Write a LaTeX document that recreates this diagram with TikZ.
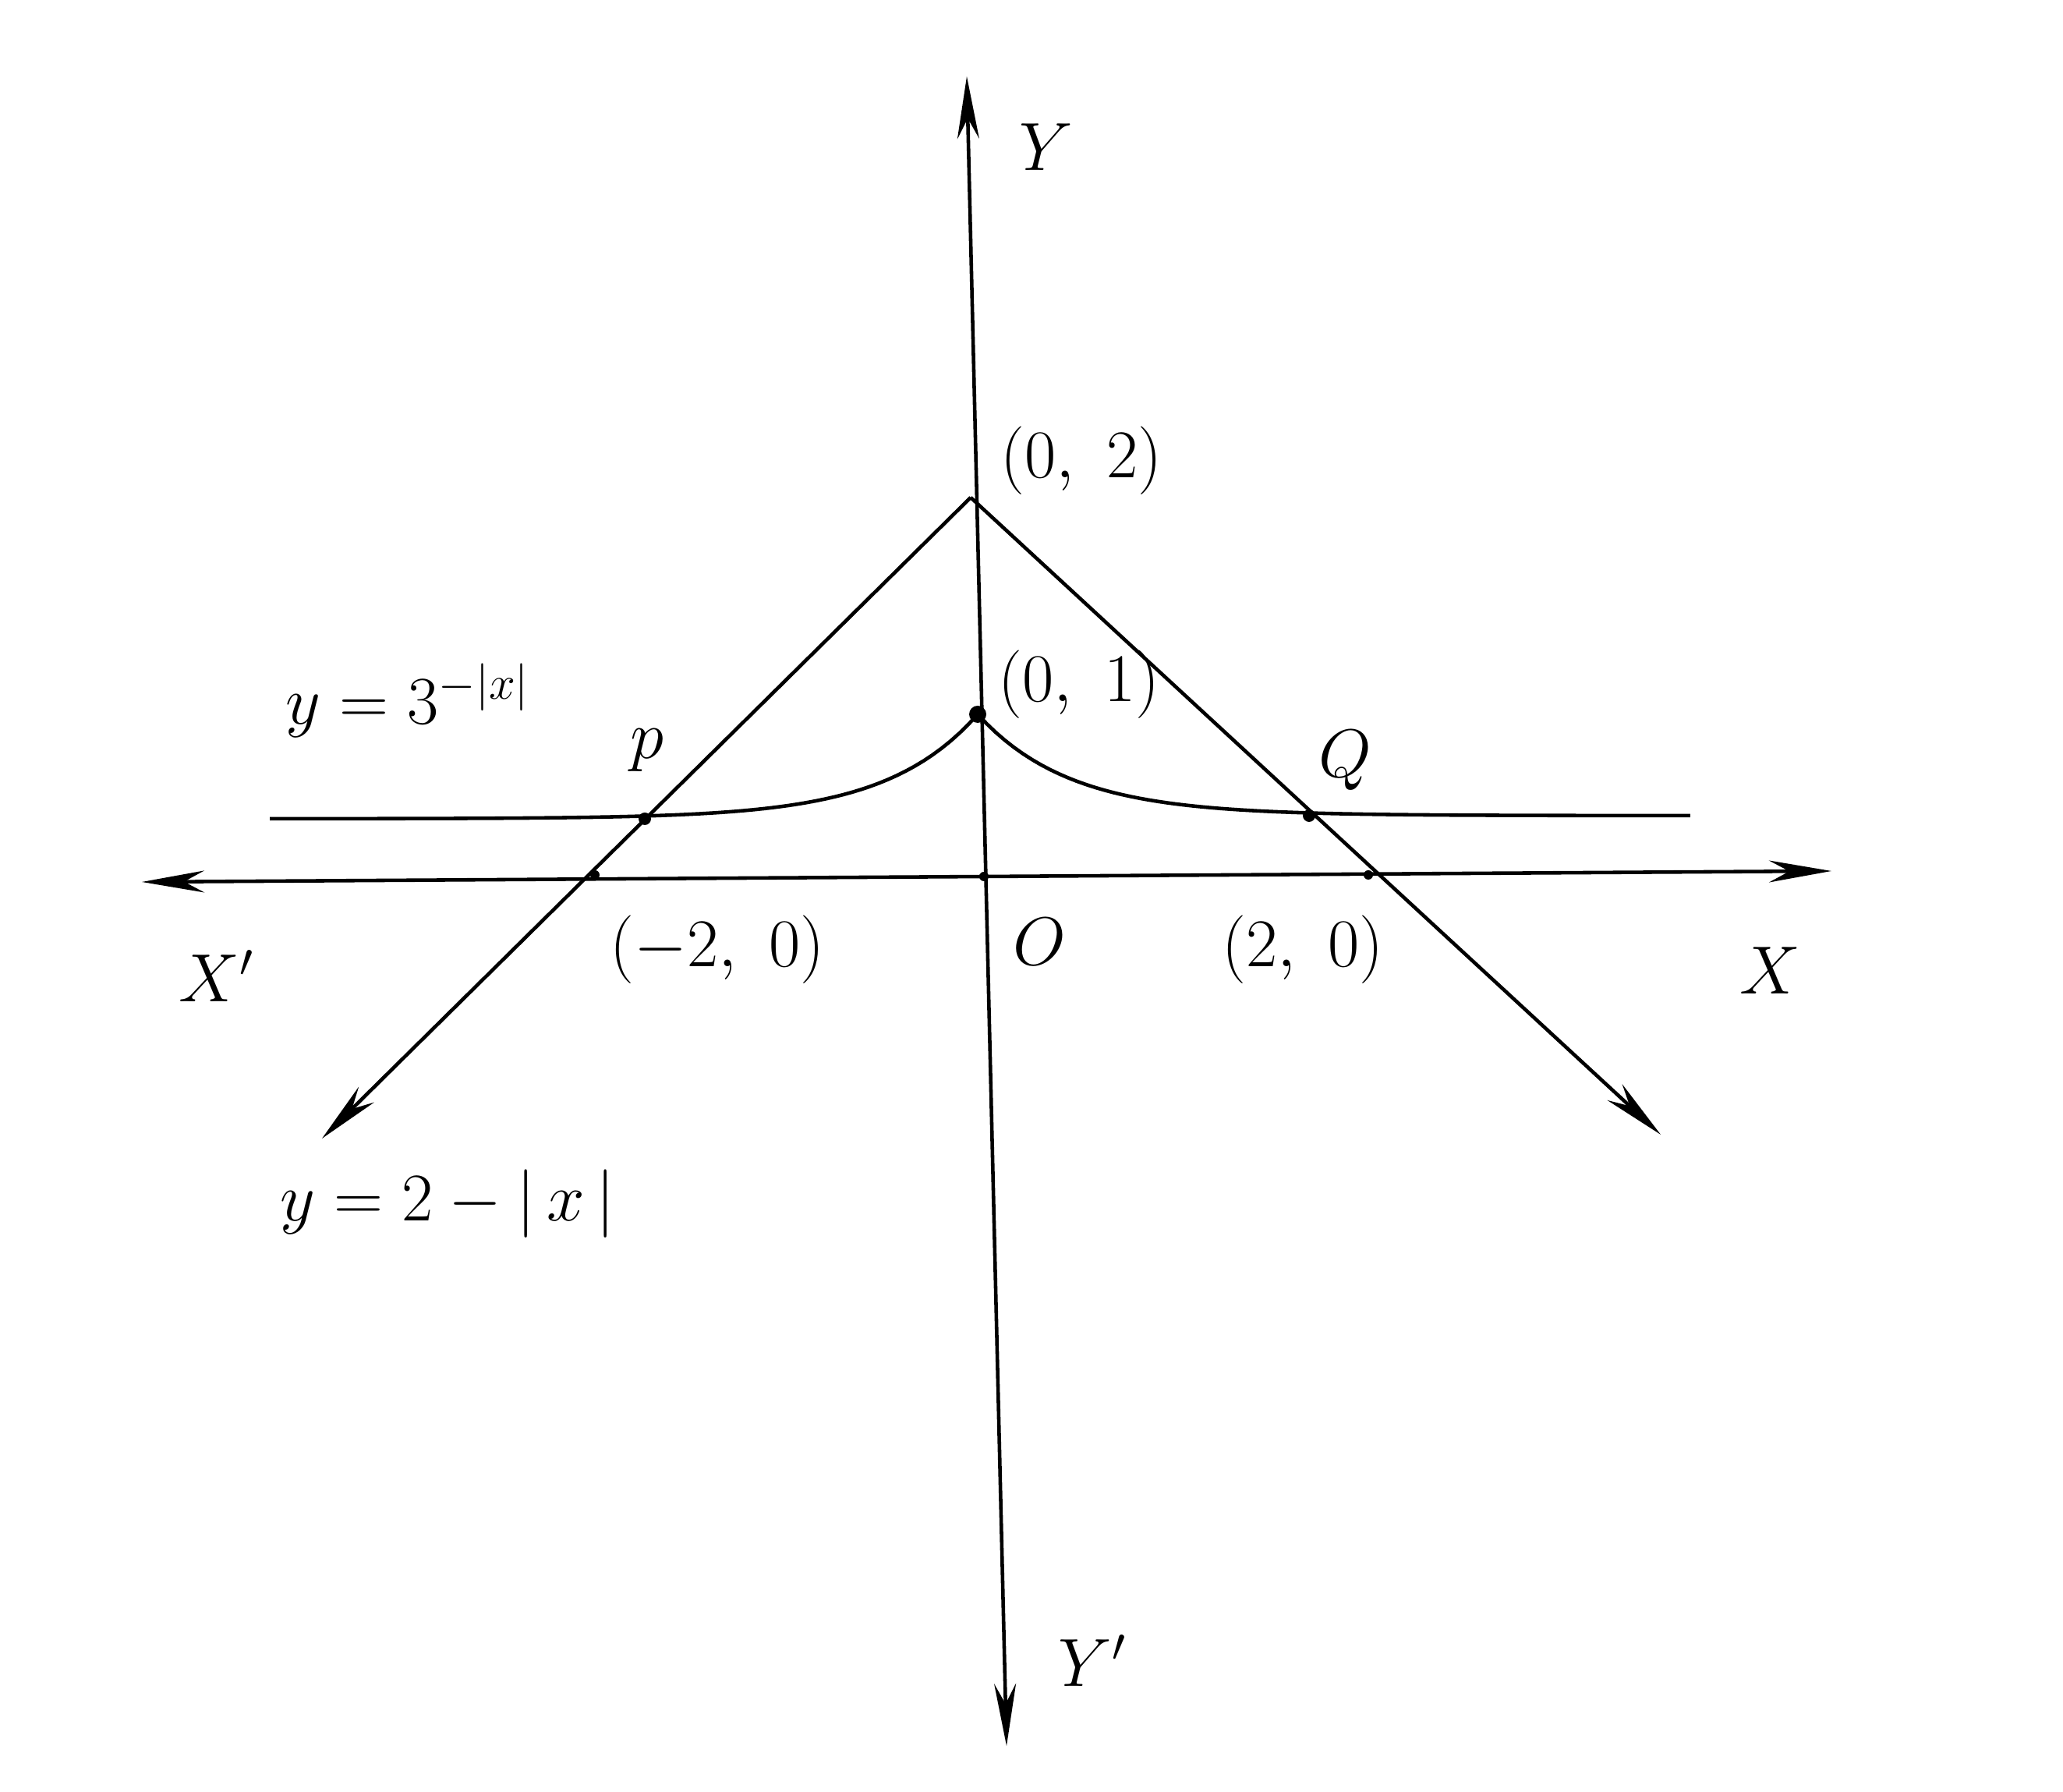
\documentclass[tikz,border=0pt]{standalone}
\usetikzlibrary{arrows.meta}
\tikzset{
axis/.style={
    line width=1.3pt,
    {Stealth[length=8mm,width=2.8mm]}-{Stealth[length=8mm,width=2.8mm]}
},
graph/.style={
    line width=1.3pt,
    -{Stealth[length=8mm,width=2.8mm]}
},
curve/.style={
    line width=1.3pt
},
point/.style={
    circle,
    fill=black,
    inner sep=0pt,
    minimum size=2.2mm
},
lbl/.style={
    font=\fontsize{25}{30}\selectfont,
    inner sep=0pt
}}

\begin{document}
\begin{tikzpicture}
\useasboundingbox (0,0) rectangle (26.46,22.98);

% axes
\coordinate (xl) at (1.82,11.67);
\coordinate (xr) at (23.49,11.81);
\coordinate (yt) at (12.40,22.00);
\coordinate (yb) at (12.91,0.59);
\path (xl) edge[axis] (xr);
\path (yb) edge[axis] (yt);

% y = 2 - |x|
\coordinate (a2) at (12.45,16.60);
\coordinate (le) at (4.13,8.38);
\coordinate (re) at (21.30,8.43);
\path (a2) edge[graph] (le);
\path (a2) edge[graph] (re);

% y = 3^{-|x|}
\draw[curve] plot[domain=3.46:12.54, samples=80] (\x, {12.48+1.34*exp(-0.85*(12.54-\x))});
\draw[curve] plot[domain=12.54:21.68, samples=80] (\x, {12.52+1.30*exp(-0.85*(\x-12.54))});

% points
\node[point] (b1) at (12.54,13.82) {};
\node[point, minimum size=1.6mm] (p)  at (8.27,12.48) {};
\node[point, minimum size=1.6mm] (q)  at (16.79,12.52) {};
\node[point, minimum size=1.2mm] (m2) at (7.63,11.76) {};
\node[point, minimum size=1.2mm] (p2) at (17.55,11.76) {};
\node[point, minimum size=1.2mm] (o)  at (12.62,11.74) {};

% labels
\node[lbl] (ylab)  at (13.42,21.09) {$Y$};
\node[lbl] (yplab) at (14.01,1.68)  {$Y'$};
\node[lbl] (xplab) at (2.78,10.46)  {$X'$};
\node[lbl] (xlab)  at (22.70,10.53) {$X$};
\node[lbl] (olab)  at (13.33,10.90) {$O$};
\node[lbl] (m2lab) at (9.20,10.80)  {$(-2,\ 0)$};
\node[lbl] (p2lab) at (16.71,10.80) {$(2,\ 0)$};
\node[lbl] (a2lab) at (13.87,17.07) {$(0,\ 2)$};
\node[lbl] (b1lab) at (13.84,14.20) {$(0,\ 1)$};
\node[lbl] (plab)  at (8.30,13.36)  {$p$};
\node[lbl] (qlab)  at (17.25,13.23) {$Q$};
\node[lbl] (elab)  at (5.23,14.00)  {$y = 3^{-|x|}$};
\node[lbl] (flab)  at (5.74,7.54)   {$y = 2 - |\,x\,|$};
\end{tikzpicture}
\end{document}
